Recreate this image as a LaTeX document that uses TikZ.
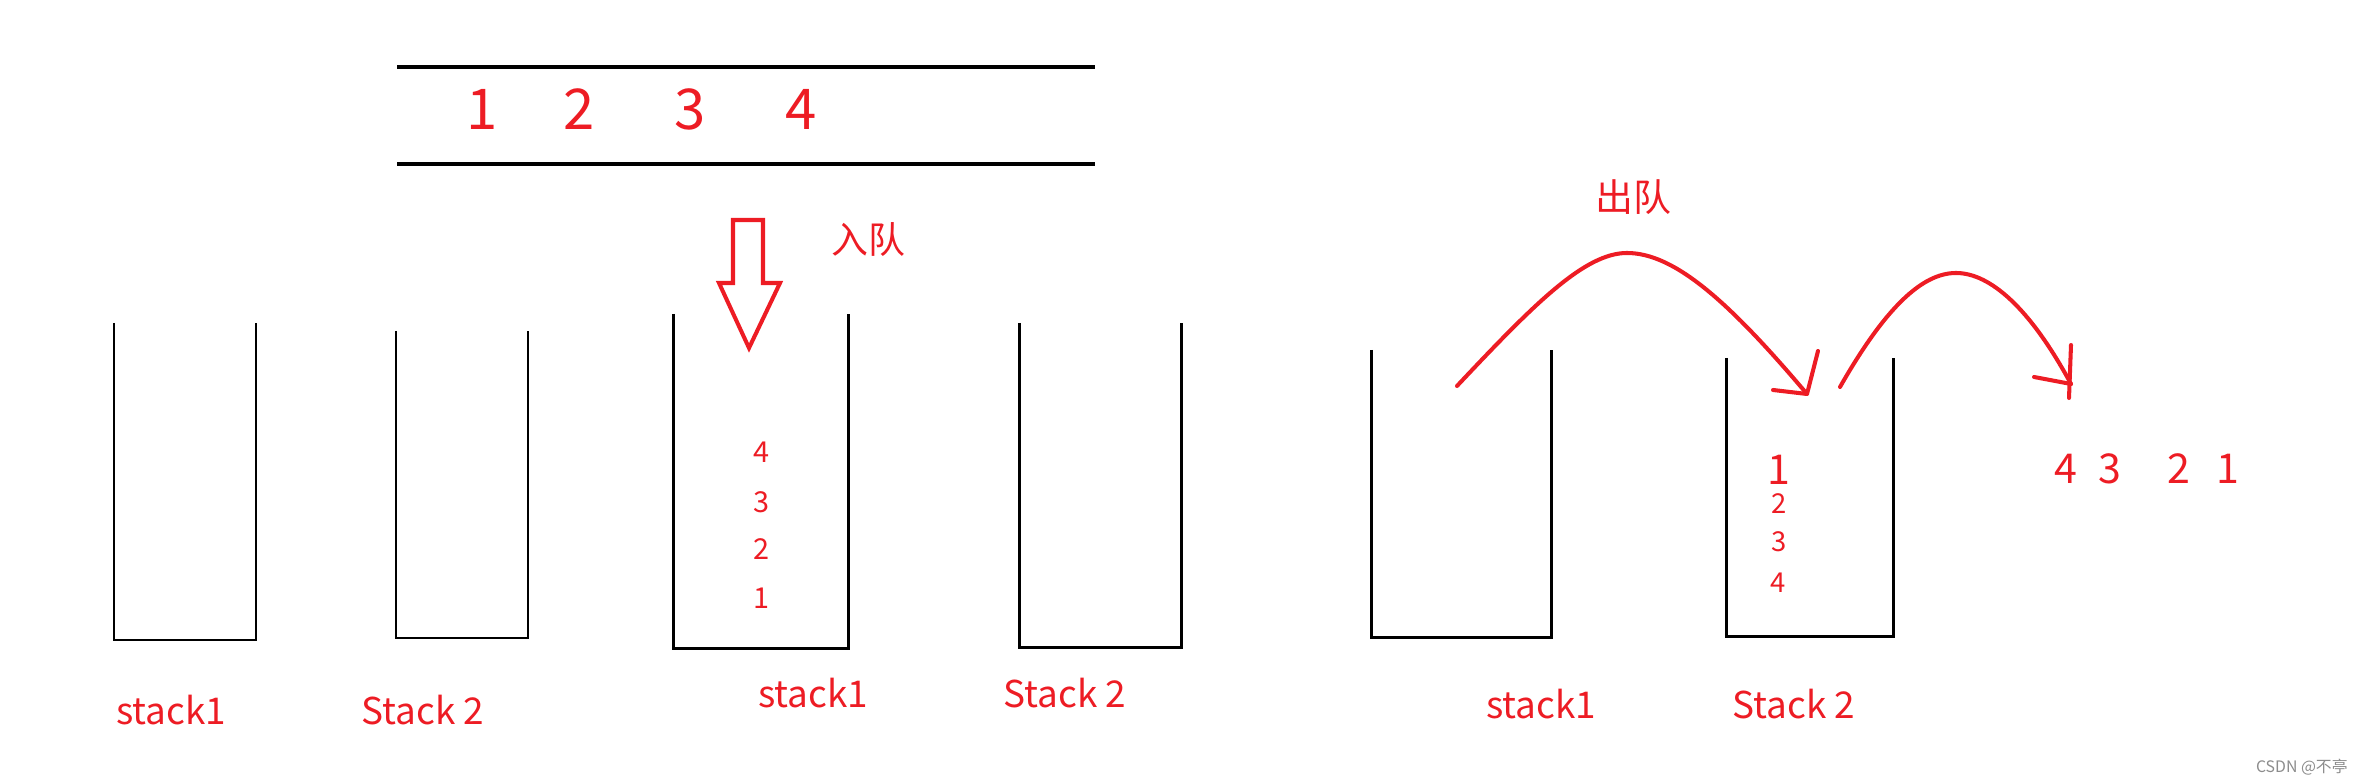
\documentclass[tikz,border=0pt]{standalone}
\usepackage{fontspec}
\setmainfont{Noto Sans CJK SC}
\definecolor{paintred}{RGB}{237,28,36}

\begin{document}
\begin{tikzpicture}[
    wall/.style={draw=black, line width=0.85pt, line join=miter},
    pen/.style={draw=paintred, line width=1.15pt, line cap=round, line join=round},
    redtxt/.style={text=paintred, inner sep=0pt},
    stacklabel/.style={redtxt, font=\fontsize{10.5}{12}\selectfont},
  ]
  \useasboundingbox (0, 0) rectangle (23.78, 7.83);

  % Queue
  \draw[line width=1.4pt] (3.97, 7.16) -- (10.95, 7.16);
  \draw[line width=1.4pt] (3.97, 6.19) -- (10.95, 6.19);
  \node[redtxt, font=\fontsize{16}{18}\selectfont] (q1) at (4.82, 6.74) {1};
  \node[redtxt, font=\fontsize{16}{18}\selectfont] (q2) at (5.79, 6.74) {2};
  \node[redtxt, font=\fontsize{16}{18}\selectfont] (q3) at (6.90, 6.74) {3};
  \node[redtxt, font=\fontsize{16}{18}\selectfont] (q4) at (8.01, 6.74) {4};

  % Push arrow
  \draw[draw=paintred, line width=1.15pt, line join=miter]
    (7.33, 5.63) -- (7.63, 5.63) -- (7.63, 5.00) -- (7.80, 5.00)
    -- (7.49, 4.35) -- (7.19, 5.00) -- (7.33, 5.00) -- cycle;
  \node[redtxt, font=\fontsize{10.5}{12}\selectfont] (push) at (8.68, 5.43) {入队};

  % Stacks
  \draw[wall, line width=0.7pt] (1.14, 4.60) -- (1.14, 1.43) -- (2.56, 1.43) -- (2.56, 4.60);
  \draw[wall, line width=0.7pt] (3.96, 4.52) -- (3.96, 1.45) -- (5.28, 1.45) -- (5.28, 4.52);
  \draw[wall] (6.73, 4.69) -- (6.73, 1.34) -- (8.48, 1.34) -- (8.48, 4.69);
  \draw[wall] (10.19, 4.60) -- (10.19, 1.35) -- (11.81, 1.35) -- (11.81, 4.60);
  \draw[wall] (13.71, 4.33) -- (13.71, 1.45) -- (15.51, 1.45) -- (15.51, 4.33);
  \draw[wall] (17.26, 4.25) -- (17.26, 1.46) -- (18.93, 1.46) -- (18.93, 4.25);

  % Stack contents
  \node[redtxt, font=\fontsize{8.2}{10}\selectfont] (a4) at (7.61, 3.31) {4};
  \node[redtxt, font=\fontsize{8.2}{10}\selectfont] (a3) at (7.61, 2.81) {3};
  \node[redtxt, font=\fontsize{8.2}{10}\selectfont] (a2) at (7.61, 2.34) {2};
  \node[redtxt, font=\fontsize{8.2}{10}\selectfont] (a1) at (7.61, 1.85) {1};

  \node[redtxt, font=\fontsize{11.7}{13}\selectfont] (b1) at (17.79, 3.13) {1};
  \node[redtxt, font=\fontsize{7.8}{9}\selectfont] (b2) at (17.79, 2.79) {2};
  \node[redtxt, font=\fontsize{7.8}{9}\selectfont] (b3) at (17.79, 2.41) {3};
  \node[redtxt, font=\fontsize{7.8}{9}\selectfont] (b4) at (17.78, 2.00) {4};

  % Output
  \node[redtxt, font=\fontsize{11.7}{13}\selectfont] (o4) at (20.66, 3.14) {4};
  \node[redtxt, font=\fontsize{11.7}{13}\selectfont] (o3) at (21.10, 3.14) {3};
  \node[redtxt, font=\fontsize{11.7}{13}\selectfont] (o2) at (21.79, 3.14) {2};
  \node[redtxt, font=\fontsize{11.7}{13}\selectfont] (o1) at (22.28, 3.14) {1};

  % Labels
  \node[stacklabel] (l1) at (1.71, 0.73) {stack1};
  \node[stacklabel] (l2) at (4.23, 0.73) {Stack 2};
  \node[stacklabel] (l3) at (8.13, 0.90) {stack1};
  \node[stacklabel] (l4) at (10.65, 0.90) {Stack 2};
  \node[stacklabel] (l5) at (15.41, 0.79) {stack1};
  \node[stacklabel] (l6) at (17.94, 0.79) {Stack 2};

  % Pop arcs
  \node[redtxt, font=\fontsize{10.8}{12}\selectfont] (pop) at (16.33, 5.86) {出队};
  \coordinate (s1) at (14.57, 3.97);
  \coordinate (p1) at (16.27, 5.30);
  \coordinate (t1) at (18.07, 3.89);
  \coordinate (s2) at (18.40, 3.96);
  \coordinate (p2) at (19.56, 5.10);
  \coordinate (t2) at (20.71, 3.99);
  \draw[pen] (s1) .. controls (15.35, 4.80) and (15.85, 5.30) .. (p1)
    .. controls (16.75, 5.30) and (17.30, 4.80) .. (t1);
  \draw[pen] (17.73, 3.93) -- (t1) -- (18.18, 4.32);
  \draw[pen] (s2) .. controls (18.85, 4.75) and (19.22, 5.10) .. (p2)
    .. controls (19.90, 5.10) and (20.30, 4.75) .. (t2);
  \draw[pen] (20.34, 4.06) -- (t2);
  \draw[pen] (20.71, 4.38) -- (20.69, 3.85);

  \node[text=black!45, font=\fontsize{4.5}{5}\selectfont, anchor=east] (mark) at (23.60, 0.16) {CSDN @不亭};
\end{tikzpicture}
\end{document}
